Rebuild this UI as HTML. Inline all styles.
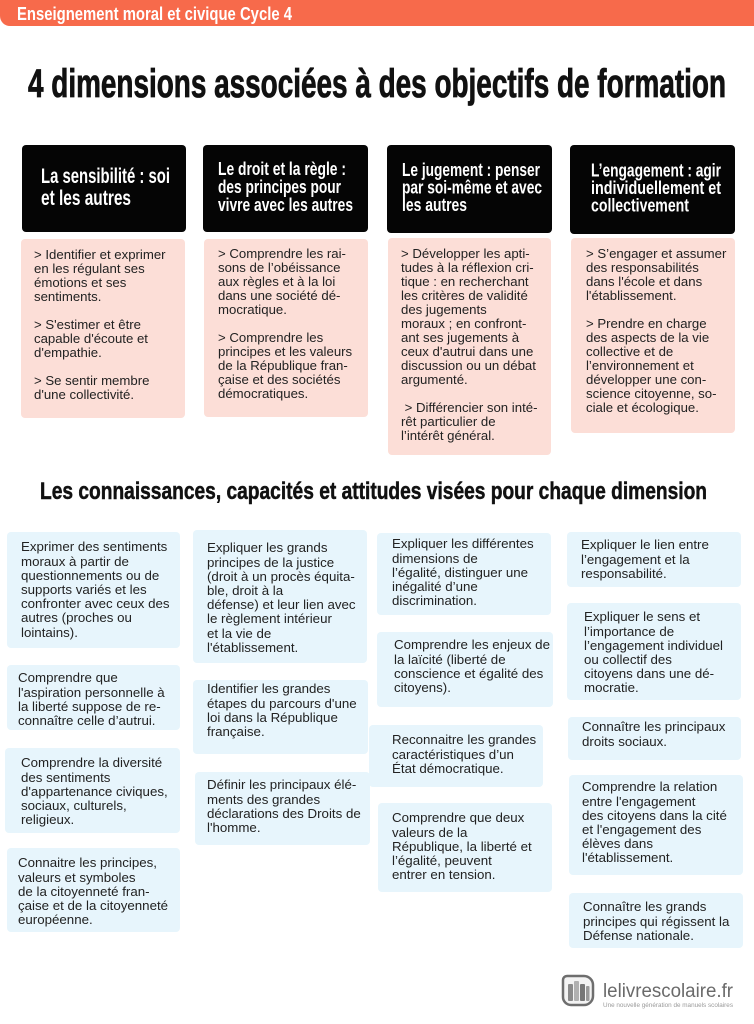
<!DOCTYPE html>
<html><head><meta charset="utf-8">
<style>
html,body{margin:0;padding:0;background:#fff;}
body{width:754px;height:1024px;position:relative;overflow:hidden;font-family:"Liberation Sans",Arial,sans-serif;}
.bar{position:absolute;left:0;top:0;width:754px;height:26px;background:#F76A4B;border-bottom-left-radius:10px;}
.blk{position:absolute;background:#050505;border-radius:4px;}
.pk{position:absolute;background:#FCDED7;border-radius:4px;}
.bl{position:absolute;background:#E7F5FC;border-radius:4px;}
.t{position:absolute;white-space:nowrap;color:#222;font-size:13.3px;line-height:14.2px;}
.tp{position:absolute;white-space:nowrap;color:#222;font-size:13.2px;line-height:14px;}
svg.ov{position:absolute;left:0;top:0;}
</style></head><body>
<div class="bar"></div>

<div class="blk" style="left:22px;top:145px;width:164px;height:87px"></div>
<div class="blk" style="left:203px;top:145px;width:165px;height:87px"></div>
<div class="blk" style="left:387px;top:145px;width:165px;height:88px"></div>
<div class="blk" style="left:570px;top:145px;width:165px;height:89px"></div>

<div class="pk" style="left:21px;top:239px;width:164px;height:179px"></div>
<div class="tp" style="left:34px;top:248.4px">&gt; Identifier et exprimer<br>en les régulant ses<br>émotions et ses<br>sentiments.<br><br>&gt; S'estimer et être<br>capable d'écoute et<br>d'empathie.<br><br>&gt; Se sentir membre<br>d'une collectivité.</div>

<div class="pk" style="left:204px;top:239px;width:164px;height:178px"></div>
<div class="tp" style="left:218px;top:247.4px">&gt; Comprendre les rai-<br>sons de l’obéissance<br>aux règles et à la loi<br>dans une société dé-<br>mocratique.<br><br>&gt; Comprendre les<br>principes et les valeurs<br>de la République fran-<br>çaise et des sociétés<br>démocratiques.</div>

<div class="pk" style="left:388px;top:238px;width:163px;height:217px"></div>
<div class="tp" style="left:401px;top:247.4px">&gt; Développer les apti-<br>tudes à la réflexion cri-<br>tique : en recherchant<br>les critères de validité<br>des jugements<br>moraux ; en confront-<br>ant ses jugements à<br>ceux d'autrui dans une<br>discussion ou un débat<br>argumenté.<br><br>&nbsp;&gt; Différencier son inté-<br>rêt particulier de<br>l’intérêt général.</div>

<div class="pk" style="left:571px;top:238px;width:164px;height:195px"></div>
<div class="tp" style="left:586px;top:247.4px">&gt; S’engager et assumer<br>des responsabilités<br>dans l'école et dans<br>l'établissement.<br><br>&gt; Prendre en charge<br>des aspects de la vie<br>collective et de<br>l’environnement et<br>développer une con-<br>science citoyenne, so-<br>ciale et écologique.</div>

<!-- column 1 -->
<div class="bl" style="left:7px;top:532px;width:173px;height:116px"></div>
<div class="t" style="left:21px;top:540.3px">Exprimer des sentiments<br>moraux à partir de<br>questionnements ou de<br>supports variés et les<br>confronter avec ceux des<br>autres (proches ou<br>lointains).</div>
<div class="bl" style="left:7px;top:665px;width:173px;height:65px"></div>
<div class="t" style="left:18px;top:671.3px">Comprendre que<br>l'aspiration personnelle à<br>la liberté suppose de re-<br>connaître celle d’autrui.</div>
<div class="bl" style="left:5px;top:748px;width:175px;height:85px"></div>
<div class="t" style="left:21px;top:756.3px">Comprendre la diversité<br>des sentiments<br>d'appartenance civiques,<br>sociaux, culturels,<br>religieux.</div>
<div class="bl" style="left:7px;top:848px;width:173px;height:84px"></div>
<div class="t" style="left:18px;top:856.3px">Connaitre les principes,<br>valeurs et symboles<br>de la citoyenneté fran-<br>çaise et de la citoyenneté<br>européenne.</div>

<!-- column 2 -->
<div class="bl" style="left:193px;top:530px;width:174px;height:133px"></div>
<div class="t" style="left:207px;top:541.3px">Expliquer les grands<br>principes de la justice<br>(droit à un procès équita-<br>ble, droit à la<br>défense) et leur lien avec<br>le règlement intérieur<br>et la vie de<br>l'établissement.</div>
<div class="bl" style="left:193px;top:680px;width:175px;height:74px"></div>
<div class="t" style="left:207px;top:682.3px">Identifier les grandes<br>étapes du parcours d'une<br>loi dans la République<br>française.</div>
<div class="bl" style="left:195px;top:772px;width:175px;height:73px"></div>
<div class="t" style="left:207px;top:778.3px">Définir les principaux élé-<br>ments des grandes<br>déclarations des Droits de<br>l'homme.</div>

<!-- column 3 -->
<div class="bl" style="left:377px;top:533px;width:174px;height:82px"></div>
<div class="t" style="left:392px;top:537.3px">Expliquer les différentes<br>dimensions de<br>l’égalité, distinguer une<br>inégalité d’une<br>discrimination.</div>
<div class="bl" style="left:377px;top:632px;width:176px;height:75px"></div>
<div class="t" style="left:394px;top:638.3px">Comprendre les enjeux de<br>la laïcité (liberté de<br>conscience et égalité des<br>citoyens).</div>
<div class="bl" style="left:369px;top:725px;width:174px;height:62px"></div>
<div class="t" style="left:392px;top:733.3px">Reconnaitre les grandes<br>caractéristiques d’un<br>État démocratique.</div>
<div class="bl" style="left:378px;top:803px;width:174px;height:89px"></div>
<div class="t" style="left:392px;top:811.3px">Comprendre que deux<br>valeurs de la<br>République, la liberté et<br>l’égalité, peuvent<br>entrer en tension.</div>

<!-- column 4 -->
<div class="bl" style="left:567px;top:532px;width:174px;height:55px"></div>
<div class="t" style="left:581px;top:538.3px">Expliquer le lien entre<br>l’engagement et la<br>responsabilité.</div>
<div class="bl" style="left:567px;top:603px;width:174px;height:97px"></div>
<div class="t" style="left:584px;top:610.3px">Expliquer le sens et<br>l’importance de<br>l’engagement individuel<br>ou collectif des<br>citoyens dans une dé-<br>mocratie.</div>
<div class="bl" style="left:568px;top:717px;width:173px;height:43px"></div>
<div class="t" style="left:582px;top:720.3px">Connaître les principaux<br>droits sociaux.</div>
<div class="bl" style="left:569px;top:775px;width:174px;height:100px"></div>
<div class="t" style="left:582px;top:780.3px">Comprendre la relation<br>entre l'engagement<br>des citoyens dans la cité<br>et l'engagement des<br>élèves dans<br>l'établissement.</div>
<div class="bl" style="left:569px;top:893px;width:174px;height:55px"></div>
<div class="t" style="left:583px;top:900.3px">Connaître les grands<br>principes qui régissent la<br>Défense nationale.</div>

<svg class="ov" width="754" height="1024" viewBox="0 0 754 1024" xmlns="http://www.w3.org/2000/svg">
<g font-family="Liberation Sans, Arial, sans-serif" font-weight="bold">
<text x="17" y="20" font-size="18" fill="#fff" textLength="275" lengthAdjust="spacingAndGlyphs">Enseignement moral et civique Cycle 4</text>
<text x="28" y="97" font-size="40" fill="#111" stroke="#111" stroke-width="0.8" textLength="698" lengthAdjust="spacingAndGlyphs">4 dimensions associées à des objectifs de formation</text>
<text x="40" y="499" font-size="24" fill="#111" stroke="#111" stroke-width="0.5" textLength="667" lengthAdjust="spacingAndGlyphs">Les connaissances, capacités et attitudes visées pour chaque dimension</text>

<g fill="#fff">
<text x="41" y="183" font-size="21" textLength="129" lengthAdjust="spacingAndGlyphs">La sensibilité : soi</text>
<text x="41" y="205" font-size="21" textLength="90" lengthAdjust="spacingAndGlyphs">et les autres</text>

<text x="218" y="175" font-size="18" textLength="128" lengthAdjust="spacingAndGlyphs">Le droit et la règle :</text>
<text x="218" y="193" font-size="18" textLength="123" lengthAdjust="spacingAndGlyphs">des principes pour</text>
<text x="218" y="211" font-size="18" textLength="135" lengthAdjust="spacingAndGlyphs">vivre avec les autres</text>

<text x="402" y="176" font-size="18" textLength="138" lengthAdjust="spacingAndGlyphs">Le jugement : penser</text>
<text x="402" y="193.5" font-size="18" textLength="140" lengthAdjust="spacingAndGlyphs">par soi-même et avec</text>
<text x="402" y="211" font-size="18" textLength="65" lengthAdjust="spacingAndGlyphs">les autres</text>

<text x="591" y="176.5" font-size="18" textLength="130" lengthAdjust="spacingAndGlyphs">L’engagement : agir</text>
<text x="591" y="194" font-size="18" textLength="130" lengthAdjust="spacingAndGlyphs">individuellement et</text>
<text x="591" y="211.5" font-size="18" textLength="98" lengthAdjust="spacingAndGlyphs">collectivement</text>
</g>
</g>

<g transform="translate(562,975)">
<path d="M5,1 H22 A9,9 0 0 1 31,10 V21 A9,9 0 0 1 22,30 H9 A8,8 0 0 1 1,22 V5 A4,4 0 0 1 5,1 Z" fill="#f3f3f3" stroke="#6e6e6e" stroke-width="2.5"/>
<rect x="6" y="9" width="5" height="17" rx="1" fill="#8a8a8a"/>
<rect x="12" y="6" width="5" height="20" rx="1" fill="#b0b0b0"/>
<rect x="18" y="9" width="5" height="17" rx="1" fill="#777"/>
<rect x="24" y="11" width="3.5" height="15" rx="1" fill="#9a9a9a"/>
</g>
<text x="603" y="997" font-family="Liberation Sans, Arial, sans-serif" font-size="19" fill="#6a6a6a" textLength="130" lengthAdjust="spacingAndGlyphs">lelivrescolaire.fr</text>
<text x="603" y="1007" font-family="Liberation Sans, Arial, sans-serif" font-size="6.5" fill="#9a9a9a" textLength="130" lengthAdjust="spacingAndGlyphs">Une nouvelle génération de manuels scolaires</text>
</svg>
</body></html>
